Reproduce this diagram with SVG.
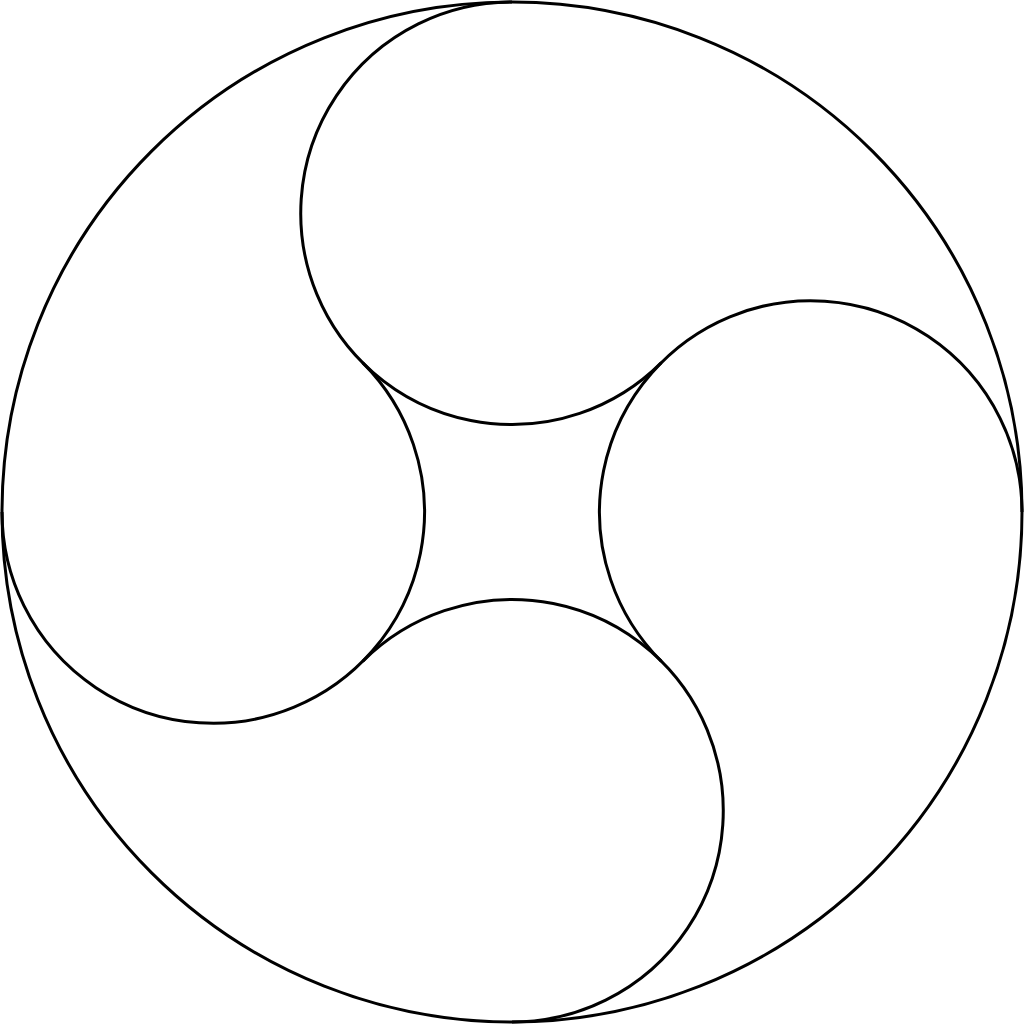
<svg xmlns="http://www.w3.org/2000/svg" width="1024" height="1024" viewBox="0 0 1024 1024">
<style>
.s{fill:none;stroke:#000;stroke-width:3}
</style>
<rect width="1024" height="1024" fill="#fff"/>
<g id="outer"><circle class="s" cx="512" cy="512" r="510"/></g>
<g id="top"><path class="s" d="M512,2 A211.25,211.25 0 1 0 661.37,362.62"/></g>
<g id="right"><path class="s" d="M1022,512 A211.25,211.25 0 1 0 661.38,661.37"/></g>
<g id="bottom"><path class="s" d="M512,1022 A211.25,211.25 0 1 0 362.63,661.38"/></g>
<g id="left"><path class="s" d="M2,512 A211.25,211.25 0 1 0 362.62,362.63"/></g>
</svg>
